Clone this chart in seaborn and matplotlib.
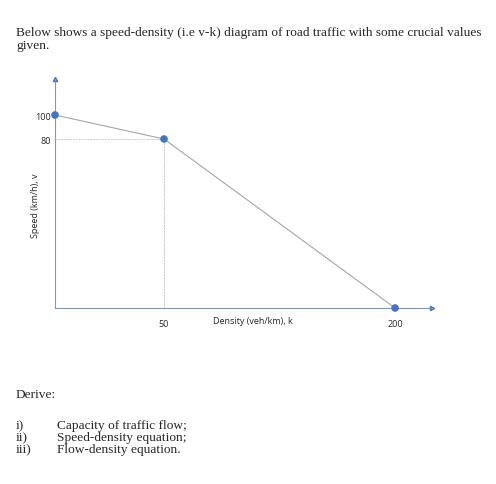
import numpy as np
import matplotlib
matplotlib.use("Agg")
import matplotlib.pyplot as plt
import seaborn as sns

density = [0, 50, 200]
speed = [100, 80, 0]
x_ticks = [50, 200]
y_ticks = [80, 100]

sns.set_style("white")
plt.rcParams['font.family'] = ['Open Sans', 'DejaVu Sans']

def fx(x):
    x = np.asarray(x, float)
    return np.where(x <= 50, x * 2.18, 109 + (x - 50) * 1.54)
def ix(p):
    p = np.asarray(p, float)
    return np.where(p <= 109, p / 2.18, 50 + (p - 109) / 1.54)
def fy(y):
    y = np.asarray(y, float)
    return np.where(y <= 80, y * 169 / 80, 169 + (y - 80) * 1.2)
def iy(p):
    p = np.asarray(p, float)
    return np.where(p <= 169, p * 80 / 169, 80 + (p - 169) / 1.2)

fig = plt.figure(figsize=(4.96, 4.85), dpi=100)
ax = fig.add_axes([55/496, 176/485, 377/496, 229/485])
ax.set_xscale('function', functions=(fx, ix))
ax.set_yscale('function', functions=(fy, iy))
ax.set_xlim(0, 224)
ax.set_ylim(0, 130)

ax.plot([0, 50], [80, 80], color='#c8c8c8', lw=0.7, ls=(0, (2, 1)))
ax.plot([50, 50], [0, 80], color='#c8c8c8', lw=0.7, ls=(0, (2, 1)))
sns.lineplot(x=density, y=speed, ax=ax, color='#a6a6a6', lw=0.8, sort=False)
sns.scatterplot(x=density, y=speed, ax=ax, color='#4472C4', s=30, edgecolor='none', zorder=5, clip_on=False)

for s in ['top', 'right']:
    ax.spines[s].set_visible(False)
for s in ['left', 'bottom']:
    ax.spines[s].set_color('#8497b0')
    ax.spines[s].set_linewidth(0.8)
ax.plot(1, 0, '>', color='#4472C4', ms=3, transform=ax.transAxes, clip_on=False)
ax.plot(0, 1, '^', color='#4472C4', ms=3, transform=ax.transAxes, clip_on=False)

ax.set_xticks(x_ticks)
ax.set_yticks(y_ticks)
ax.tick_params(length=0, labelsize=6.5, pad=8)
ax.tick_params(axis='y', pad=3)
ax.set_xlabel('')
ax.set_ylabel('Speed (km/h), v', fontsize=6.5)
ax.yaxis.set_label_coords(-15/377, 0.45)
ax.text(82, -4, 'Density (veh/km), k', fontsize=6.5, ha='left', va='top')

serif = ['Liberation Serif']
fs = 9.6
fig.text(16/496, 1 - 33/485, 'Below shows a speed-density (i.e v-k) diagram of road traffic with some crucial values',
         family=serif, fontsize=fs, va='center')
fig.text(16/496, 1 - 46/485, 'given.', family=serif, fontsize=fs, va='center')
fig.text(16/496, 1 - 395/485, 'Derive:', family=serif, fontsize=fs, va='center')
items = [('i)', 'Capacity of traffic flow;'), ('ii)', 'Speed-density equation;'), ('iii)', 'Flow-density equation.')]
for k, (a, b) in enumerate(items):
    y = 1 - (426 + 12 * k) / 485
    fig.text(16/496, y, a, family=serif, fontsize=fs, va='center')
    fig.text(57/496, y, b, family=serif, fontsize=fs, va='center')

fig.savefig('out.png', dpi=100)
